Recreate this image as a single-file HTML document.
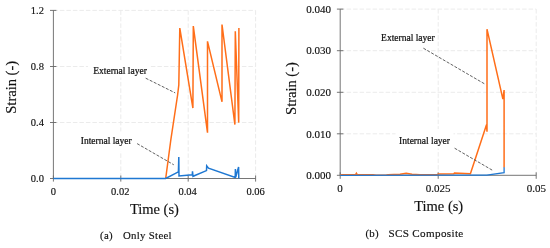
<!DOCTYPE html>
<html><head><meta charset="utf-8">
<style>
html,body{margin:0;padding:0;background:#fff;}
svg{display:block}
text{font-family:"Liberation Serif",serif;fill:#111;stroke:#111;stroke-width:0.15px}
.tk{font-size:10.5px}
.t2{font-size:11px}
.an{font-size:9.5px;stroke-width:0.22px}
.ti{font-size:14.5px}
.cap{font-size:10.8px;letter-spacing:0.3px}
.grid{stroke:#ebebeb;stroke-width:1;stroke-dasharray:4.5 2;fill:none}
.ax{stroke:#666;stroke-width:0.9;fill:none}
.or{stroke:#ff6e19;stroke-width:1.5;fill:none;stroke-linejoin:miter}
.bl{stroke:#1f78d2;stroke-width:1.5;fill:none;stroke-linejoin:miter}
.ld{stroke:#505050;stroke-width:0.9;stroke-dasharray:3 1.5;fill:none}
</style></head><body>
<svg width="550" height="248" viewBox="0 0 550 248">
<rect width="550" height="248" fill="#fff"/>
<!-- LEFT CHART -->
<g>
<path class="grid" d="M53.4 10.4H255.6M53.4 66.5H255.6M53.4 122.5H255.6M120.8 10.4V178.5M188.2 10.4V178.5M255.6 10.4V178.5"/>
<rect x="88" y="60.5" width="62" height="17" fill="#fff"/>
<rect x="78" y="131.5" width="56" height="20" fill="#fff"/>
<path class="ax" d="M53.4 10.4V178.5H255.6M50 10.4H56.4M50 66.5H56.4M50 122.5H56.4M50 178.5H56.4M53.4 175.5V181.6M120.8 175.5V181.6M188.2 175.5V181.6M255.6 175.5V181.6"/>
<path class="or" d="M165.7 178.5L170.8 140L177.6 95L178.8 85L179.8 28.1L192.9 108.1L193.3 26.1L207.5 132.7L207.5 41.3L222 101.8L222 24.5L234.9 124.6L235.3 31.2L238.7 122.6L238.9 28.1"/>
<path class="bl" d="M53.4 178.5H165.7L178.4 171.9L178.8 157.1L179 175.9L192.3 174.7L192.5 171.3L193 176.3L206.5 170.6L206.7 165.8L208.5 168.2L235.2 177.4L235.4 169L235.7 177.2L238.6 167L238.8 178.5"/>
<path class="ld" d="M145.7 78.2L175.2 92.9M137.1 143.6L173.8 164.8"/>
<text class="tk" x="43.9" y="14.2" text-anchor="end">1.2</text>
<text class="tk" x="43.9" y="70.4" text-anchor="end">0.8</text>
<text class="tk" x="43.9" y="126.4" text-anchor="end">0.4</text>
<text class="tk" x="43.9" y="182.4" text-anchor="end">0.0</text>
<text class="tk" x="53.4" y="194.8" text-anchor="middle">0</text>
<text class="tk" x="120.3" y="194.8" text-anchor="middle">0.02</text>
<text class="tk" x="187.6" y="194.8" text-anchor="middle">0.04</text>
<text class="tk" x="255.6" y="194.8" text-anchor="middle">0.06</text>
<text class="an" x="93.3" y="73.8">External layer</text>
<text class="an" x="80.8" y="143.8">Internal layer</text>
<text class="ti" x="154.4" y="213.9" text-anchor="middle">Time (s)</text>
<text class="ti" transform="translate(15.7 113.7) rotate(-90)">Strain (-)</text>
<text class="cap" x="100" y="239">(a)</text>
<text class="cap" x="123" y="239">Only Steel</text>
</g>
<!-- RIGHT CHART -->
<g>
<path class="grid" d="M340.1 9.1H536.2M340.1 50.7H536.2M340.1 92.3H536.2M340.1 133.8H536.2M438.2 9.1V175.3M536.2 9.1V175.3"/>
<rect x="378" y="30" width="59" height="14" fill="#fff"/>
<rect x="395.5" y="129" width="58" height="19.5" fill="#fff"/>
<path class="ax" d="M340.2 9.1V175.3H536.2M336.9 9.1H343.4M336.9 50.7H343.4M336.9 92.3H343.4M336.9 133.8H343.4M336.9 175.3H343.4M340.2 172.3V178.8M438.2 172.3V178.8M536.2 172.3V178.8"/>
<path class="or" d="M340.1 175.2L342 174.8L355.6 174.7L356.4 173.3L357.2 174.7L373 174.8L376 175.3L386 175.3L388 174.8L400 174.2L406.2 173.3L412 174.2L420 174.8L437.8 174.7L438.2 173.9L453.8 173.7L454.4 173.1L470.4 173.8L486.5 124.8L487 131.8L487 29.2L502.9 99.2L504.1 90L504.1 167.5"/>
<path class="bl" style="stroke-width:1.3" d="M340.1 175.4L438 175.1L486.8 175.1L504.1 172.7L504.1 167.3"/>
<path class="ld" d="M423.4 48.2L484.8 84M454.6 148.2L492.3 170.2"/>
<text class="tk t2" x="331" y="12.6" text-anchor="end">0.040</text>
<text class="tk t2" x="331" y="54.2" text-anchor="end">0.030</text>
<text class="tk t2" x="331" y="95.8" text-anchor="end">0.020</text>
<text class="tk t2" x="331" y="137.5" text-anchor="end">0.010</text>
<text class="tk t2" x="331" y="178.8" text-anchor="end">0.000</text>
<text class="tk t2" x="340.1" y="191.9" text-anchor="middle">0</text>
<text class="tk t2" x="438.2" y="191.9" text-anchor="middle">0.025</text>
<text class="tk t2" x="536.4" y="191.9" text-anchor="middle">0.05</text>
<text class="an" x="381.1" y="40.8">External layer</text>
<text class="an" x="399.1" y="143.7">Internal layer</text>
<text class="ti" x="438.7" y="211.2" text-anchor="middle">Time (s)</text>
<text class="ti" transform="translate(295.7 114.9) rotate(-90)">Strain (-)</text>
<text class="cap" x="365.4" y="237.1">(b)</text>
<text class="cap" x="388.4" y="237.1" style="font-size:11.1px;letter-spacing:0.36px">SCS Composite</text>
</g>
</svg>
</body></html>
